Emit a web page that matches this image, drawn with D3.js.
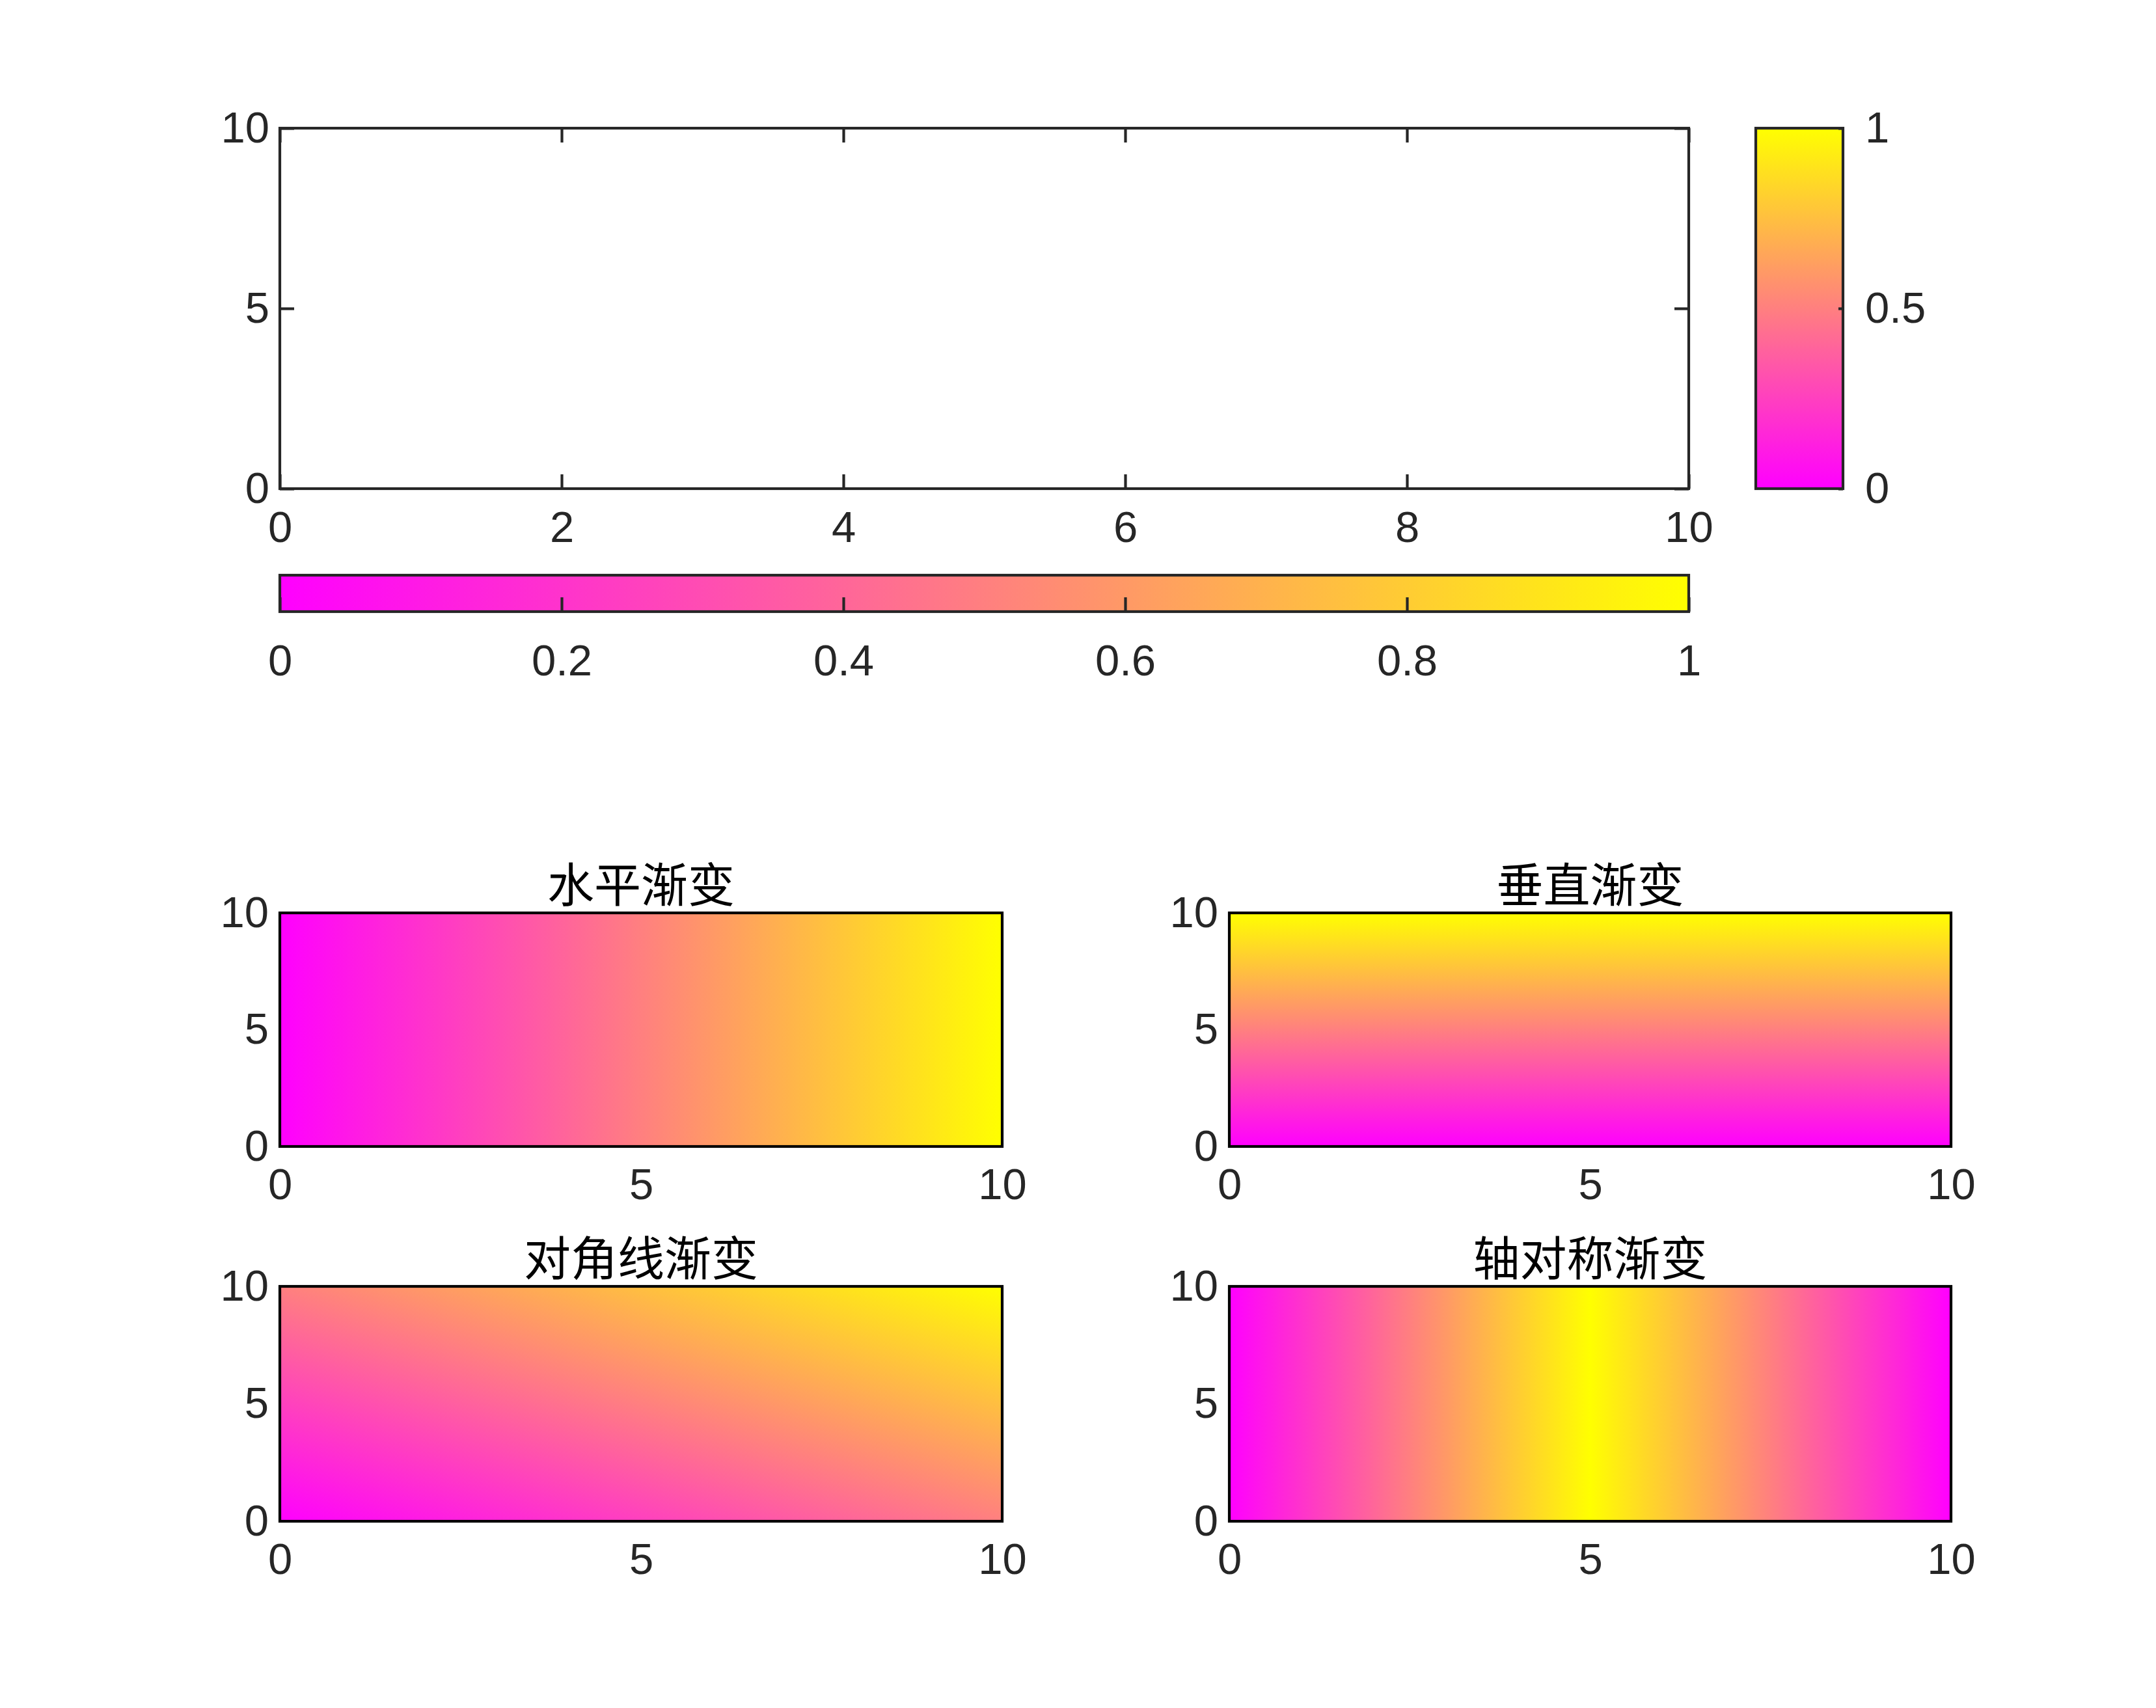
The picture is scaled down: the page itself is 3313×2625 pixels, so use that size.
<!DOCTYPE html>
<html>
<head>
<meta charset="utf-8">
<script src="https://cdn.jsdelivr.net/npm/d3@7/dist/d3.min.js"></script>
<style>
  body { margin: 0; background: #fff; }
  text { font-family: "Liberation Sans", Arial, sans-serif; fill: #262626; }
  .title { font-family: "Noto Sans CJK SC", sans-serif; fill: #000; }
</style>
</head>
<body>
<script>
// data
const topXTicks = [0, 2, 4, 6, 8, 10]
const topYTicks = [0, 5, 10]
const cbHTicks = [0, 0.2, 0.4, 0.6, 0.8, 1]
const cbVTicks = [0, 0.5, 1]
const subTicks = [0, 5, 10]
const springColors = ['#ff00ff', '#ffff00']  // spring colormap ends
const panelTitles = ['水平渐变', '垂直渐变', '对角线渐变', '轴对称渐变']
const panelModes = ['horizontal', 'vertical', 'diagonal', 'symmetric']
const rampValues = [0, 1]        // 0 -> 1 along the gradient
const symmetricValues = [0, 1, 0] // edge -> centre -> edge

const W = 3313, H = 2625
const fontSize = 67
const ink = '#262626'
const lw = 4.2

let svg = d3.select('body').append('svg')
  .attr('width', W)
  .attr('height', H)
let defs = svg.append('defs')

let spring = d3.scaleLinear().domain([0, 1]).range(springColors).interpolate(d3.interpolateRgb)

// gradient direction in bounding box units
function vec(mode) {
  if (mode === 'vertical') return [0, 1, 0, 0]
  if (mode === 'diagonal') return [0, 1, 1, 0]
  return [0, 0, 1, 0]
}

function makeGradient(id, mode) {
  let v = vec(mode)
  let vals = mode === 'symmetric' ? symmetricValues : rampValues
  let off = d3.scaleLinear().domain([0, vals.length - 1]).range([0, 1])
  let g = defs.append('linearGradient')
    .attr('id', id)
    .attr('gradientUnits', 'objectBoundingBox')
    .attr('x1', v[0]).attr('y1', v[1]).attr('x2', v[2]).attr('y2', v[3])
  g.selectAll('stop')
    .data(vals)
    .enter()
    .append('stop')
    .attr('offset', (d, i) => off(i))
    .attr('stop-color', d => spring(d))
}

function styleAxis(g) {
  g.select('.domain').remove()
  g.selectAll('line').attr('stroke', ink).attr('stroke-width', lw)
  g.selectAll('text').attr('font-size', fontSize).attr('fill', ink)
    .attr('font-family', '"Liberation Sans", Arial, sans-serif')
}

// ---------- top axes (empty, box on, ticks inward) ----------
let tx = d3.scaleLinear().domain([0, 10]).range([430, 2595])
let ty = d3.scaleLinear().domain([0, 10]).range([751, 197])

svg.append('g').attr('transform', 'translate(0,751)')
  .call(d3.axisBottom(tx).tickValues(topXTicks).tickSizeInner(-22).tickSizeOuter(0).tickPadding(34))
  .call(styleAxis)
svg.append('g').attr('transform', 'translate(0,197)')
  .call(d3.axisTop(tx).tickValues(topXTicks).tickSizeInner(-22).tickSizeOuter(0).tickFormat(''))
  .call(styleAxis)
svg.append('g').attr('transform', 'translate(430,0)')
  .call(d3.axisLeft(ty).tickValues(topYTicks).tickSizeInner(-22).tickSizeOuter(0).tickPadding(16))
  .call(styleAxis)
svg.append('g').attr('transform', 'translate(2595,0)')
  .call(d3.axisRight(ty).tickValues(topYTicks).tickSizeInner(-22).tickSizeOuter(0).tickFormat(''))
  .call(styleAxis)
svg.append('rect')
  .attr('x', tx(0)).attr('y', ty(10))
  .attr('width', tx(10) - tx(0)).attr('height', ty(0) - ty(10))
  .attr('fill', 'none').attr('stroke', ink).attr('stroke-width', lw)

// horizontal colorbar (south)
makeGradient('cbH', 'horizontal')
let cbx = d3.scaleLinear().domain([0, 1]).range([430, 2595])
svg.append('rect')
  .attr('x', cbx(0)).attr('y', 884)
  .attr('width', cbx(1) - cbx(0)).attr('height', 56)
  .attr('fill', 'url(#cbH)')
svg.append('g').attr('transform', 'translate(0,940)')
  .call(d3.axisBottom(cbx).tickValues(cbHTicks).tickFormat(d3.format('~g'))
    .tickSizeInner(-22).tickSizeOuter(0).tickPadding(50))
  .call(styleAxis)
svg.append('rect')
  .attr('x', cbx(0)).attr('y', 884)
  .attr('width', cbx(1) - cbx(0)).attr('height', 56)
  .attr('fill', 'none').attr('stroke', ink).attr('stroke-width', lw)

// vertical colorbar (east)
makeGradient('cbV', 'vertical')
let cby = d3.scaleLinear().domain([0, 1]).range([751, 197])
svg.append('rect')
  .attr('x', 2698).attr('y', cby(1))
  .attr('width', 134).attr('height', cby(0) - cby(1))
  .attr('fill', 'url(#cbV)')
svg.append('g').attr('transform', 'translate(2832,0)')
  .call(d3.axisRight(cby).tickValues(cbVTicks).tickFormat(d3.format('~g'))
    .tickSizeInner(-7).tickSizeOuter(0).tickPadding(34))
  .call(styleAxis)
svg.append('rect')
  .attr('x', 2698).attr('y', cby(1))
  .attr('width', 134).attr('height', cby(0) - cby(1))
  .attr('fill', 'none').attr('stroke', ink).attr('stroke-width', lw)

// ---------- 2x2 gradient panels ----------
let cols = [[430, 1540], [1889, 2998]]
let rows = [[1762, 1403], [2338, 1977]]

panelModes.forEach(function (mode, i) {
  let c = cols[i % 2]
  let r = rows[Math.floor(i / 2)]
  let x = d3.scaleLinear().domain([0, 10]).range(c)
  let y = d3.scaleLinear().domain([0, 10]).range(r)
  let g = svg.append('g')

  g.append('g').attr('transform', 'translate(0,' + y(0) + ')')
    .call(d3.axisBottom(x).tickValues(subTicks).tickSize(0).tickPadding(33))
    .call(styleAxis)
  g.append('g').attr('transform', 'translate(' + x(0) + ',0)')
    .call(d3.axisLeft(y).tickValues(subTicks).tickSize(0).tickPadding(17))
    .call(styleAxis)

  let id = 'grad' + i
  makeGradient(id, mode)
  g.append('rect')
    .attr('x', x(0)).attr('y', y(10))
    .attr('width', x(10) - x(0)).attr('height', y(0) - y(10))
    .attr('fill', 'url(#' + id + ')')
    .attr('stroke', '#000')
    .attr('stroke-width', lw)

  g.append('text')
    .attr('class', 'title')
    .attr('x', (x(0) + x(10)) / 2)
    .attr('y', y(10) - 17)
    .attr('text-anchor', 'middle')
    .attr('font-size', 72)
    .text(panelTitles[i])
})
</script>
</body>
</html>
